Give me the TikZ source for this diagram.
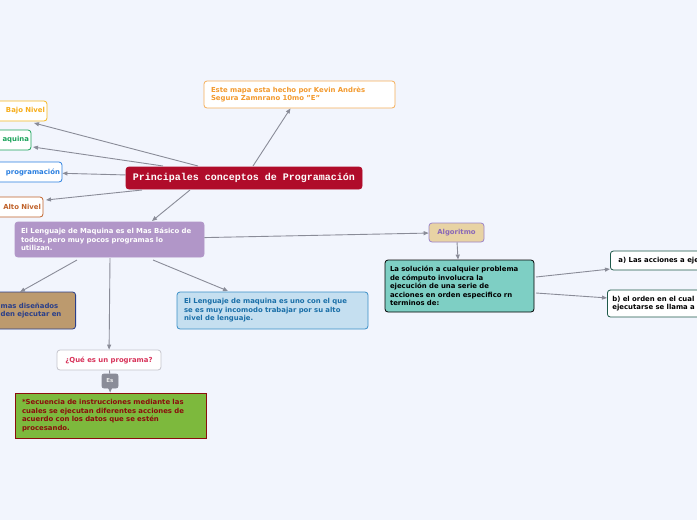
\documentclass[tikz,border=0pt]{standalone}
\usepackage{fontspec}
\setmainfont{DejaVu Sans}
\newfontfamily\titlefont{Liberation Mono}
\usetikzlibrary{arrows.meta}
\definecolor{bg}{HTML}{F2F5FD}
\definecolor{ttl}{HTML}{B00C2A}
\definecolor{orng}{HTML}{F39A2E}
\definecolor{yel}{HTML}{F5B820}
\definecolor{grn}{HTML}{1BA35A}
\definecolor{blu}{HTML}{2A7FE0}
\definecolor{brn}{HTML}{C0622A}
\definecolor{purp}{HTML}{B196C8}
\definecolor{tan}{HTML}{BC9A6E}
\definecolor{dblu}{HTML}{2A3F8A}
\definecolor{lblu}{HTML}{C5DFF0}
\definecolor{mblu}{HTML}{3A8FC7}
\definecolor{tblu}{HTML}{1A6FA8}
\definecolor{pink}{HTML}{D8335A}
\definecolor{lgrey}{HTML}{C4C4CC}
\definecolor{lgreen}{HTML}{7DB93D}
\definecolor{dred}{HTML}{8A0D0D}
\definecolor{algf}{HTML}{E8D3A4}
\definecolor{algb}{HTML}{9C84C8}
\definecolor{algt}{HTML}{8A68B8}
\definecolor{teal}{HTML}{7ECFC4}
\definecolor{dteal}{HTML}{1E5A4A}
\definecolor{edge}{HTML}{8A8C98}
\begin{document}
\begin{tikzpicture}[x=1pt,y=-1pt,
  box/.style={draw,rounded corners=3pt,line width=0.8pt,inner sep=0pt,font=\fontsize{6.9}{8.6}\selectfont\bfseries,align=left},
  conn/.style={draw=edge,line width=0.9pt,-{Triangle[length=5pt,width=4pt]}}]
\useasboundingbox (0,0) rectangle (697,520);
\fill[bg] (0,0) rectangle (697,520);
\begin{scope}
\clip (0,0) rectangle (697,520);
\node[box,fill=ttl,draw=ttl,minimum width=236pt,minimum height=22pt,text=white,font=\titlefont\fontsize{10}{11}\selectfont\bfseries] (t) at (244,178) {Principales conceptos de Programación};
\node[box,fill=white,draw=orng!80,text=orng,minimum width=191pt,minimum height=27pt,text width=177pt] (au) at (299.5,94.5) {Este mapa esta hecho por Kevin Andrès\\Segura Zamnrano 10mo "E"};
\node[box,fill=white,draw=yel,text=yel!80!orange,minimum width=80pt,minimum height=20pt,text width=76pt] (bn) at (7,111) {\hfill Bajo Nivel};
\node[box,fill=white,draw=grn,text=grn,minimum width=80pt,minimum height=20pt,text width=76pt] (mq) at (-9,140) {\hfill aquina};
\node[box,fill=white,draw=blu,text=blu,minimum width=100pt,minimum height=20pt,text width=96pt] (pr) at (12,172) {\hfill programación};
\node[box,fill=white,draw=brn,text=brn,minimum width=80pt,minimum height=20pt,text width=76pt] (an) at (3,207) {\hfill Alto Nivel};
\node[box,fill=purp,draw=purp,text=white,minimum width=189pt,minimum height=35pt,text width=177pt] (lm) at (109.5,239.5) {El Lenguaje de Maquina es el Mas Básico de\\todos, pero muy pocos programas lo\\utilizan.};
\node[box,fill=tan,draw=dblu,text=dblu,minimum width=150pt,minimum height=37pt,text width=150pt,anchor=east] (br) at (76,310.5) {\hspace*{75pt}mas diseñados\\\hspace*{75pt}den ejecutar en};
\node[box,fill=lblu,draw=mblu,text=tblu,minimum width=191pt,minimum height=37pt,text width=177pt] (lb) at (272.5,310.5) {El Lenguaje de maquina es uno con el que\\se es muy incomodo trabajar por su alto\\nivel de lenguaje.};
\node[box,fill=white,draw=lgrey,text=pink,minimum width=104pt,minimum height=20pt] (q) at (109,360) {¿Qué es un programa?};
\node[box,fill=edge,draw=edge,text=white!85!gray,rounded corners=2pt,minimum width=16pt,minimum height=14pt,font=\fontsize{5.5}{6}\selectfont\bfseries] (es) at (110,381) {Es};
\node[box,fill=lgreen,draw=dred,text=dred,rounded corners=0pt,minimum width=191pt,minimum height=45pt,text width=177pt] (gr) at (110.5,415.5) {*Secuencia de instrucciones mediante las\\cuales se ejecutan diferentes acciones de\\acuerdo con los datos que se estén\\procesando.};
\node[box,fill=algf,draw=algb,text=algt,minimum width=55pt,minimum height=19pt] (al) at (456.5,232.5) {Algoritmo};
\node[box,fill=teal,draw=black,text=black,minimum width=149pt,minimum height=52pt,text width=139pt] (te) at (459.5,286) {La solución a cualquier problema\\de cómputo involucra la\\ejecución de una serie de\\acciones en orden especifico rn\\terminos de:};
\node[box,fill=white,draw=dteal,text=black,minimum width=140pt,minimum height=19pt,anchor=west] (a) at (610,260.5) {\hspace*{8pt}a) Las acciones a eje\hspace*{70pt}};
\node[box,fill=white,draw=dteal,text=black,minimum width=160pt,minimum height=27pt,text width=150pt,anchor=west] (b) at (607,303.5) {b) el orden en el cual\\ejecutarse se llama a};
\draw[conn] (253,166) -- (au);
\draw[conn] (198,166) -- (34,123);
\draw[conn] (163,166) -- (33,147);
\draw[conn] (t) -- (pr);
\draw[conn] (142,190) -- (46,200);
\draw[conn] (190,190) -- (152,221);
\draw[conn] (77,260) -- (20,292);
\draw[conn] (110,258) -- (q);
\draw[conn] (153,260) -- (228,291);
\draw[conn] (lm) -- (al);
\draw[edge,line width=0.9pt] (q) -- (es);
\draw[conn] (es) -- (gr);
\draw[conn] (al) -- (te);
\draw[conn] (536,277) -- (a);
\draw[conn] (536,293) -- (b);
\end{scope}
\end{tikzpicture}
\end{document}
